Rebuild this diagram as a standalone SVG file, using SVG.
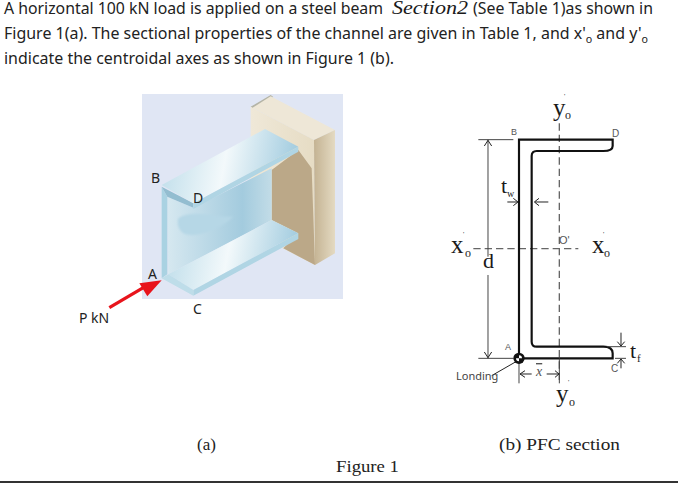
<svg xmlns="http://www.w3.org/2000/svg" width="678" height="483" viewBox="0 0 678 483">
<style>
.b{font-family:"Noto Sans","Liberation Sans",sans-serif;font-size:16.5px;fill:#222}
.l{font-family:"Noto Sans","Liberation Sans",sans-serif;font-size:14px;fill:#222}
.s{font-family:"Liberation Serif",serif;fill:#1a1a1a}
.cap{font-family:"Liberation Serif",serif;font-size:17px;fill:#222}
.g{font-family:"Liberation Sans",sans-serif;fill:#555}
.dim{fill:none;stroke:#444;stroke-width:3}
.ax{fill:none;stroke:#666;stroke-width:4;stroke-dasharray:22 12}
</style>
<defs>
<linearGradient id="fl" x1="0" y1="0" x2="1" y2="0.1"><stop offset="0" stop-color="#bcdce9"/><stop offset=".5" stop-color="#f3f9fb"/><stop offset="1" stop-color="#a4cde0"/></linearGradient>
<linearGradient id="web" x1="0" y1="0" x2="1" y2="0"><stop offset="0" stop-color="#d6e8f0"/><stop offset=".72" stop-color="#a3cbde"/><stop offset="1" stop-color="#c2dce7"/></linearGradient>
<linearGradient id="wf" x1="0" y1="0" x2="1" y2="0"><stop offset="0" stop-color="#efe8d8"/><stop offset="1" stop-color="#e6dcc4"/></linearGradient>
<linearGradient id="ws" x1="0" y1="0" x2="1" y2="0"><stop offset="0" stop-color="#c4b393"/><stop offset="1" stop-color="#e4dac2"/></linearGradient>
<filter id="soft" x="-5%" y="-5%" width="110%" height="110%"><feGaussianBlur stdDeviation="2"/></filter>
<filter id="soft2" x="-20%" y="-20%" width="140%" height="140%"><feGaussianBlur stdDeviation="3.5"/></filter>
</defs>
<g id="problem-text">
<text class="b" x="4" y="14" textLength="379" lengthAdjust="spacingAndGlyphs">A horizontal 100 kN load is applied on a steel beam</text>
<text class="s" x="392" y="14" font-size="18" font-style="italic" textLength="76" lengthAdjust="spacingAndGlyphs">Section2</text>
<text class="b" x="473" y="14" textLength="180" lengthAdjust="spacingAndGlyphs">(See Table 1)as shown in</text>
<text class="b" x="4" y="39" textLength="644" lengthAdjust="spacingAndGlyphs">Figure 1(a). The sectional properties of the channel are given in Table 1, and x'<tspan dy="4" font-size="11">o</tspan><tspan dy="-4"> and y'</tspan><tspan dy="4" font-size="11">o</tspan></text>
<text class="b" x="4" y="64" textLength="390" lengthAdjust="spacingAndGlyphs">indicate the centroidal axes as shown in Figure 1 (b).</text>
</g>
<g id="figure-a">
<rect x="142" y="94" width="201" height="205" fill="#e0e6f4"/>
<g transform="translate(60 85) scale(.33333)">
<g filter="url(#soft)">
<polygon points="572,65 632,30 640,36 578,70" fill="#b4b4a6"/>
<polygon points="578,68 632,34 825,135 762,165" fill="#eee7d7"/>
<polygon points="572,65 578,68 762,165 765,540 668,490 572,300" fill="url(#wf)"/>
<polygon points="762,165 825,135 825,505 765,540" fill="url(#ws)"/>
<polygon points="635,255 715,195 755,250 765,540 670,490 715,445 635,405" fill="#bba888"/>
<polygon points="322,335 400,368 635,250 635,405 325,568" fill="url(#web)"/>
</g>
<path d="M355 400C400 370 470 400 520 395C470 440 400 460 370 445C355 435 350 415 355 400Z" fill="#b6d7e6" filter="url(#soft2)"/>
<g filter="url(#soft)">
<polygon points="305,305 322,335 322,568 305,580" fill="#a9d2e2"/>
<polygon points="322,335 400,368 400,355 305,305" fill="#93bdd0"/>
<polygon points="305,300 615,132 715,185 400,355" fill="url(#fl)"/>
<polygon points="400,355 715,185 715,200 400,372" fill="#b0d5e4"/>
<polygon points="325,568 635,405 715,445 400,615" fill="url(#fl)"/>
<polygon points="400,615 715,445 715,462 400,632" fill="#b0d5e4"/>
<polygon points="305,580 400,632 400,615 325,568" fill="#bedde9"/>
</g>
<line x1="148" y1="668" x2="250" y2="608" stroke="#e8141c" stroke-width="10"/>
<polygon points="305,586 238,595 262,634" fill="#e8141c"/>
</g>
<text class="l" x="148" y="279">A</text>
<text class="l" x="151" y="183">B</text>
<text class="l" x="193" y="203">D</text>
<text class="l" x="193" y="314">C</text>
<text class="l" x="79" y="323">P kN</text>
<text class="cap" x="197" y="450">(a)</text>
</g>
<g id="figure-b">
<g transform="translate(430 90) scale(.33333)">
<path class="ax" d="M388 100V870"/>
<path class="ax" d="M130 476H445"/>
<path d="M267 149H548V168Q548 183 520 183H320Q305 183 305 198V755Q305 770 320 770H520Q548 770 548 790V805H267Z" fill="none" stroke="#111" stroke-width="6.5"/>
<g class="dim">
<path d="M145 149H250M145 805H250"/>
<path d="M174 149V500M174 555V805"/>
<path d="M267 805V880M388 805V880"/>
<path d="M530 770H588M555 805H588"/>
</g>
<g stroke="#222" fill="none" stroke-width="3">
<path d="M163 168L174 151L185 168M163 786L174 803L185 786"/>
<path d="M232 336H262M250 325L264 336L250 347"/>
<path d="M355 336H315M327 325L313 336L327 347"/>
<path d="M270 852H305M285 842L270 852L285 862"/>
<path d="M350 852H387M375 842L387 852L375 862"/>
<path d="M573 728V768M562 755L573 768L584 755"/>
<path d="M573 835V808M562 820L573 807L584 820"/>
<path d="M185 857L258 815"/>
</g>
<circle cx="267" cy="805" r="17" fill="#111"/>
<path d="M267 805V796A9 9 0 0 1 276 805ZM267 805V814A9 9 0 0 1 258 805Z" fill="#fff"/>
</g>
<text class="s" x="553" y="116" font-size="25">y</text>
<text class="s" x="564" y="98" font-size="7" fill="#777">'</text>
<text class="s" x="565" y="119" font-size="12">o</text>
<text class="s" x="451" y="253" font-size="25">x</text>
<text class="s" x="463" y="236" font-size="7" fill="#777">'</text>
<text class="s" x="465" y="257" font-size="12">o</text>
<text class="s" x="592" y="253" font-size="25">x</text>
<text class="s" x="603" y="236" font-size="7" fill="#777">'</text>
<text class="s" x="604" y="257" font-size="12">o</text>
<text class="s" x="483" y="268" font-size="22">d</text>
<text class="g" x="559" y="244" font-size="11">O'</text>
<text class="s" x="501" y="193" font-size="22">t</text>
<text class="s" x="507" y="197" font-size="10">w</text>
<text class="g" x="511" y="135" font-size="9">B</text>
<text class="g" x="612" y="137" font-size="10">D</text>
<text class="g" x="505" y="350" font-size="9">A</text>
<text class="l" x="456" y="380" style="font-size:11px;fill:#444">Londing</text>
<text class="g" x="611" y="372" font-size="10">C</text>
<text class="s" x="630" y="358" font-size="22">t</text>
<text class="s" x="637" y="362" font-size="11">f</text>
<text class="s" x="556" y="402" font-size="25">y</text>
<text class="s" x="568" y="384" font-size="7" fill="#777">'</text>
<text class="s" x="569" y="406" font-size="12">o</text>
<text class="s" x="536" y="376" font-size="14" font-style="italic" style="text-decoration:overline;fill:#555">x</text>
<text class="cap" x="499" y="450" textLength="121" lengthAdjust="spacingAndGlyphs">(b) PFC section</text>
</g>
<g id="caption">
<text class="cap" x="336" y="472" textLength="63" lengthAdjust="spacingAndGlyphs">Figure 1</text>
<rect x="0" y="481" width="678" height="2" fill="#333"/>
</g>
</svg>
